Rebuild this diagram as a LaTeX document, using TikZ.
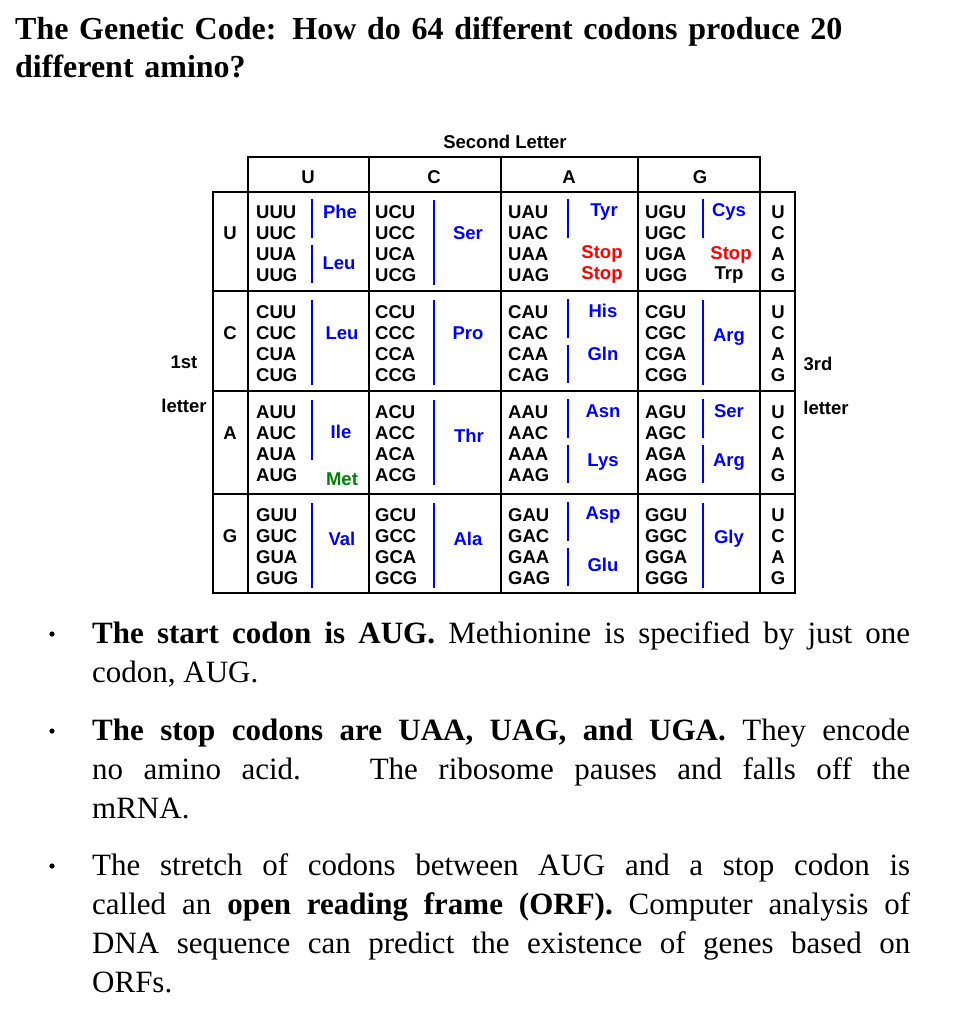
\documentclass[tikz,border=0pt]{standalone}
\usepackage{fontspec}
\setmainfont{Liberation Serif}
\setsansfont{Liberation Sans}
\begin{document}
\begin{tikzpicture}[x=1pt,y=-1pt,
  cod/.style={font=\sffamily\bfseries\fontsize{18.5}{18.5}\selectfont,anchor=west,inner sep=0pt},
  aa/.style={font=\sffamily\bfseries\fontsize{18.5}{18.5}\selectfont,text=blue,inner sep=0pt},
  stp/.style={aa,text=red},
  lab/.style={font=\sffamily\bfseries\fontsize{18.5}{18.5}\selectfont,inner sep=0pt},
  bar/.style={blue,line width=2.6pt},
  grid/.style={line width=1.6pt}]
\useasboundingbox (0,0) rectangle (978,1024);
\node[anchor=base west,inner sep=0pt,text width=950pt,align=left,font=\bfseries\fontsize{32}{38}\selectfont] (title) at (15,40) {The Genetic Code: How do 64 different codons produce 20\\different amino?};
% grid
\draw[grid] (248,157) rectangle (760,192);
\foreach \x in {369,501,638} \draw[grid] (\x,157) -- (\x,593);
\draw[grid] (213,192) rectangle (795,593);
\draw[grid] (248,192) -- (248,593);
\draw[grid] (760,192) -- (760,593);
\foreach \y in {291,391,494} \draw[grid] (213,\y) -- (795,\y);
\node[lab] (sl) at (505,142) {Second Letter};
\node[lab] (hU) at (308,177) {U};
\node[lab] (hC) at (434,177) {C};
\node[lab] (hA) at (569,177) {A};
\node[lab] (hG) at (700,177) {G};
\node[lab] (f1) at (184,362) {1st};
\node[lab] (f2) at (184,406) {letter};
\node[lab] (t1) at (818,364) {3rd};
\node[lab] (t2) at (826,408) {letter};
% blocks
\foreach \F/\y [count=\i] in {U/212,C/312,A/412,G/515}{
  \node[lab] (first\i) at (230,\y+21) {\F};
  \foreach \T [count=\j] in {U,C,A,G}{
    \node[lab] (third\i\j) at (778,\y+21*\j-21) {\T};
    \node[cod] (cu\i\j) at (256,\y+21*\j-21) {\F U\T};
    \node[cod] (cc\i\j) at (375,\y+21*\j-21) {\F C\T};
    \node[cod] (ca\i\j) at (508,\y+21*\j-21) {\F A\T};
    \node[cod] (cg\i\j) at (645,\y+21*\j-21) {\F G\T};
  }
}
\def\topbar#1#2{\draw[bar] (#1,#2-13) -- (#1,#2+26);}
\def\botbar#1#2{\draw[bar] (#1,#2+33) -- (#1,#2+71);}
\def\fullbar#1#2{\draw[bar] (#1,#2-12) -- (#1,#2+73);}
% block 1
\topbar{312}{212}\botbar{312}{212}\fullbar{434}{212}\topbar{568}{212}\topbar{703}{212}
\node[aa] (phe) at (340,212) {Phe};
\node[aa] (leu1) at (339,263) {Leu};
\node[aa] (ser1) at (468,233) {Ser};
\node[aa] (tyr) at (604,212) {Tyr};
\node[stp] (st1) at (602,254) {Stop};
\node[stp] (st2) at (602,275) {Stop};
\node[aa] (cys) at (729,212) {Cys};
\node[stp] (st3) at (731,255) {Stop};
\node[lab] (trp) at (729,275) {Trp};
% block 2
\fullbar{312}{312}\fullbar{434}{312}\topbar{568}{312}\botbar{568}{312}\fullbar{703}{312}
\node[aa] (leu2) at (342,333) {Leu};
\node[aa] (pro) at (468,333) {Pro};
\node[aa] (his) at (603,311) {His};
\node[aa] (gln) at (603,354) {Gln};
\node[aa] (arg1) at (729,337) {Arg};
% block 3
\draw[bar] (312,400) -- (312,460);
\fullbar{434}{412}\topbar{568}{412}\botbar{568}{412}\topbar{703}{412}\botbar{703}{412}
\node[aa] (ile) at (341,432) {Ile};
\node[lab,text=green!50!black] (met) at (342,479) {Met};
\node[aa] (thr) at (469,436) {Thr};
\node[aa] (asn) at (603,411) {Asn};
\node[aa] (lys) at (603,462) {Lys};
\node[aa] (ser2) at (729,411) {Ser};
\node[aa] (arg2) at (729,462) {Arg};
% block 4
\fullbar{312}{515}\fullbar{434}{515}\topbar{568}{515}\botbar{568}{515}\fullbar{703}{515}
\node[aa] (val) at (342,539) {Val};
\node[aa] (ala) at (468,539) {Ala};
\node[aa] (asp) at (603,515) {Asp};
\node[aa] (glu) at (603,565) {Glu};
\node[aa] (gly) at (729,539) {Gly};
% bullets
\tikzset{bul/.style={anchor=base west,inner sep=0pt,text width=818pt,align=justify,font=\fontsize{31}{39}\selectfont}}
\node[bul] (b1) at (92,643) {\textbf{The start codon is AUG.} Methionine is specified by just one\linebreak codon, AUG.};
\node[bul] (b2) at (92,740) {\textbf{The stop codons are UAA, UAG, and UGA.} They encode\linebreak no amino acid. \ The ribosome pauses and falls off the\linebreak mRNA.};
\node[bul] (b3) at (92,875) {The stretch of codons between AUG and a stop codon is\linebreak called an \textbf{open reading frame (ORF).} Computer analysis of\linebreak DNA sequence can predict the existence of genes based on\linebreak ORFs.};
\foreach \y [count=\k] in {634,731,866} \fill (52,\y) circle (2.6) coordinate (dot\k);
\end{tikzpicture}
\end{document}
